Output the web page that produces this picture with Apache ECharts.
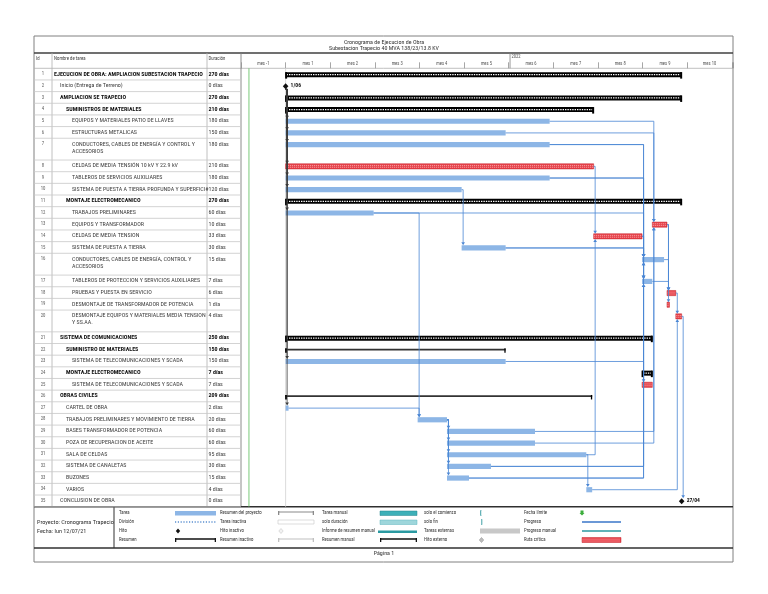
<!DOCTYPE html>
<html><head><meta charset="utf-8">
<script src="https://cdn.jsdelivr.net/npm/echarts@6/dist/echarts.min.js"></script>
<style>html,body{margin:0;padding:0;background:#fff}#c{width:768px;height:594px}</style>
</head><body><div id="c"></div>
<script>
// ---------------- DATA ----------------
const taskNames = [
 'EJECUCION DE OBRA: AMPLIACION SUBESTACION TRAPECIO',
 'Inicio (Entrega de Terreno)',
 'AMPLIACION SE TRAPECIO',
 'SUMINISTROS DE MATERIALES',
 'EQUIPOS Y MATERIALES PATIO DE LLAVES',
 'ESTRUCTURAS METALICAS',
 'CONDUCTORES, CABLES DE ENERGÍA Y CONTROL Y\nACCESORIOS',
 'CELDAS DE MEDIA TENSIÓN 10 kV Y 22.9 kV',
 'TABLEROS DE SERVICIOS AUXILIARES',
 'SISTEMA DE PUESTA A TIERRA PROFUNDA Y SUPERFICI#',
 'MONTAJE ELECTROMECANICO',
 'TRABAJOS PRELIMINARES',
 'EQUIPOS Y TRANSFORMADOR',
 'CELDAS DE MEDIA TENSION',
 'SISTEMA DE PUESTA A TIERRA',
 'CONDUCTORES, CABLES DE ENERGÍA, CONTROL Y\nACCESORIOS',
 'TABLEROS DE PROTECCION Y SERVICIOS AUXILIARES',
 'PRUEBAS Y PUESTA EN SERVICIO',
 'DESMONTAJE DE TRANSFORMADOR DE POTENCIA',
 'DESMONTAJE EQUIPOS Y MATERIALES MEDIA TENSION\nY SS.AA.',
 'SISTEMA DE COMUNICACIONES',
 'SUMINISTRO DE MATERIALES',
 'SISTEMA DE TELECOMUNICACIONES Y SCADA',
 'MONTAJE ELECTROMECANICO',
 'SISTEMA DE TELECOMUNICACIONES Y SCADA',
 'OBRAS CIVILES',
 'CARTEL DE OBRA',
 'TRABAJOS PRELIMINARES Y MOVIMIENTO DE TIERRA',
 'BASES TRANSFORMADOR DE POTENCIA',
 'POZA DE RECUPERACION DE ACEITE',
 'SALA DE CELDAS',
 'SISTEMA DE CANALETAS',
 'BUZONES',
 'VARIOS',
 'CONCLUSION DE OBRA'
];
const durationLabels = ['270 días','0 días','270 días','210 días','180 días','150 días','180 días','210 días','180 días','120 días',
 '270 días','60 días','10 días','33 días','30 días','15 días','7 días','6 días','1 día','4 días',
 '250 días','150 días','150 días','7 días','7 días','209 días','2 días','20 días','60 días','60 días',
 '95 días','30 días','15 días','4 días','0 días'];
const outlineLevels = [0,1,1,2,3,3,3,3,3,3, 2,3,3,3,3,3,3,3,3,3, 1,2,3,2,3,1,2,2,2,2, 2,2,2,2,1];
const startDays  = [0,0,0,0,0,0,0,0,0,0, 0,0,250,210,120,243,243,260,260,266, 0,0,0,243,243,0,0,90,110,110, 110,110,110,205,270];
const lengthDays = [270,0,270,210,180,150,180,210,180,120, 270,60,10,33,30,15,7,6,1,4, 250,150,150,7,7,209,2,20,60,60, 95,30,15,4,0];
// proj = project summary, sum = critical summary, sumthin = summary, ms = milestone, task
const taskKinds = ['proj','ms','sum','sum','task','task','task','task','task','task',
 'sum','task','task','task','task','task','task','task','task','task',
 'sum','sumthin','task','sum','task','sumthin','task','task','task','task',
 'task','task','task','task','ms'];
const criticalFlags = [0,0,0,0,0,0,0,1,0,0, 0,0,1,1,0,0,0,1,1,1, 0,0,0,0,1,0,0,0,0,0, 0,0,0,0,0];
const boldFlags = [1,0,1,1,0,0,0,0,0,0, 1,0,0,0,0,0,0,0,0,0, 1,1,0,1,0,1,0,0,0,0, 0,0,0,0,0];
const milestoneLabels = {2:'1/06', 35:'27/04'};
const dependencies = [
 [2,5],[2,6],[2,7],[2,8],[2,9],[2,10],[2,12],[2,23],[2,27],
 [5,13],[6,13],[7,16],[7,17],[8,14],[9,16],[9,17],[10,15],[12,16],[12,28],
 [14,16],[14,17],[15,16],[15,17],[16,18],[17,18],[13,18],[13,19],[18,20],[20,35],
 [23,25],[27,28],[28,29],[28,30],[28,31],[28,32],[28,33],[29,13],[30,13],
 [31,14],[31,34],[32,16],[32,17],[33,16],[33,17],[34,20]
];
const monthLabels = ['mes -1','mes 1','mes 2','mes 3','mes 4','mes 5','mes 6','mes 7','mes 8','mes 9','mes 10'];
const MONTH = 30.42;
const yearMarkDay = 153, yearMarkLabel = '2022';
const todayDay = -25;
const titleLines = ['Cronograma de Ejecucion de Obra','Subestacion Trapecio 40 MVA 138/23/13.8 KV'];
const legendLabels = [
 ['Tarea','División','Hito','Resumen'],
 ['Resumen del proyecto','Tarea inactiva','Hito inactivo','Resumen inactivo'],
 ['Tarea manual','solo duración','Informe de resumen manual','Resumen manual'],
 ['solo el comienzo','solo fin','Tareas externas','Hito externo'],
 ['Fecha límite','Progreso','Progreso manual','Ruta crítica']
];
const projectInfo = ['Proyecto: Cronograma Trapecio','Fecha: lun 12/07/21'];

// ---------------- LAYOUT ----------------
const FONT = '"Liberation Sans Narrow","Roboto Condensed","Arial Narrow","Liberation Sans",sans-serif';
const FS = 6.0;
const rowHeights = taskNames.map(n => n.split('\n').length > 1 ? 1.87 : 1);
const rowTops = []; let acc = 0;
rowHeights.forEach(h => { rowTops.push(acc); acc += h; });
const totalUnits = acc;
const L = 34, R = 733, TOP = 36, HDR = 53, T0 = 68.3, TB = 506.7, LEGB = 548, BOT = 562;
const C1 = 52, C2 = 207, C3 = 241;
const BLUE = '#8DB6E6', LINK = '#4A86D4', RED = '#E8434B';

function txt(x, y, s, opt) {
  opt = opt || {};
  return {type:'text', x:x, y:y, z: opt.z || 10, silent:true, style:{text:s, fill:opt.color||'#404040',
    fontSize:opt.size||FS, fontFamily:FONT, fontWeight:opt.bold?'bold':'normal',
    align:opt.align||'left', verticalAlign:'middle', textAlign:opt.align||'left', textVerticalAlign:'middle'}};
}
function ln(x1,y1,x2,y2,color,w,dash){
  return {type:'line', silent:true, shape:{x1:x1,y1:y1,x2:x2,y2:y2}, style:{stroke:color,lineWidth:w||1, lineDash:dash||null}};
}

// ---------------- RENDERERS ----------------
function tableRender(params, api){
  const i = api.value(0);
  const yTop = api.coord([0, rowTops[i]])[1];
  const yBot = api.coord([0, rowTops[i] + rowHeights[i]])[1];
  const unit = api.coord([0,1])[1] - api.coord([0,0])[1];
  const y1 = yTop + unit*0.5;
  const ch = [];
  ch.push(ln(L, yBot, C3, yBot, '#C8C8C8', 0.8));
  ch.push(txt((L+C1)/2, y1, String(i+1), {align:'center', color:'#606060', size:4.8}));
  const lines = taskNames[i].split('\n');
  const bold = !!boldFlags[i];
  lines.forEach((s,k) => ch.push(txt(C1 + 2 + outlineLevels[i]*6, y1 + k*7, s, {bold:bold, color: bold?'#111':'#404040'})));
  ch.push(txt(C2 + 1.5, y1, durationLabels[i], {bold:bold, color: bold?'#111':'#404040'}));
  return {type:'group', children:ch};
}

function barY(api, i){ return api.coord([0, rowTops[i] + 0.5])[1] + 0.5; }

function barsRender(params, api){
  const i = api.value(0);
  const kind = taskKinds[i];
  const yc = barY(api, i);
  const x0 = api.coord([startDays[i], 0])[0];
  const x1 = api.coord([startDays[i] + lengthDays[i], 0])[0];
  const w = Math.max(x1 - x0, 2.5);
  const ch = [];
  if (kind === 'task') {
    if (criticalFlags[i]) {
      ch.push({type:'rect', shape:{x:x0, y:yc-2.6, width:w, height:5.2}, style:{fill:RED, stroke:'#C4242C', lineWidth:0.5}});
      ch.push(ln(x0+0.5, yc-0.9, x0+w-0.5, yc-0.9, '#F7B9BC', 0.8, [1,1]));
      ch.push(ln(x0+0.5, yc+0.9, x0+w-0.5, yc+0.9, '#F7B9BC', 0.8, [1,1]));
    } else {
      ch.push({type:'rect', shape:{x:x0, y:yc-2.6, width:w, height:5.2}, style:{fill:BLUE}});
    }
  } else if (kind === 'sum' || kind === 'proj') {
    ch.push({type:'rect', shape:{x:x0, y:yc-2.5, width:w, height:5}, style:{fill:'#000'}});
    ch.push(ln(x0+1, yc, x0+w-1, yc, '#fff', 1.2, [1.4,1]));
    ch.push({type:'rect', shape:{x:x0-0.5, y:yc-2.5, width:2, height:6.5}, style:{fill:'#000'}});
    ch.push({type:'rect', shape:{x:x0+w-1.5, y:yc-2.5, width:2, height:6.5}, style:{fill:'#000'}});
  } else if (kind === 'sumthin') {
    ch.push({type:'rect', shape:{x:x0, y:yc-1.2, width:w, height:1.8}, style:{fill:'#333'}});
    ch.push({type:'rect', shape:{x:x0-0.5, y:yc-1.5, width:1.8, height:4.5}, style:{fill:'#000'}});
    ch.push({type:'rect', shape:{x:x0+w-1.3, y:yc-1.5, width:1.3, height:4.5}, style:{fill:'#000'}});
  } else if (kind === 'ms') {
    ch.push({type:'polygon', shape:{points:[[x0,yc-3],[x0+2.8,yc],[x0,yc+3],[x0-2.8,yc]]}, style:{fill:'#111'}});
    const lab = milestoneLabels[i+1];
    if (lab) ch.push(txt(x0 + 5, yc - 0.5, lab, {bold:true, color:'#111', size:5.6}));
  }
  return {type:'group', children:ch};
}

function linksRender(params, api){
  const f = api.value(0) - 1, t = api.value(1) - 1;
  const yf = barY(api, f), yt = barY(api, t);
  const xe = api.coord([startDays[f] + lengthDays[f], 0])[0];
  const xs = api.coord([startDays[t], 0])[0];
  const xt = Math.max(xs, xe) + 1.5;
  const down = yt > yf;
  const half = taskKinds[t] === 'ms' ? 3 : 2.6;
  const yEnd = down ? yt - half : yt + half;
  const col = taskKinds[f] === 'ms' ? '#3A3A3A' : LINK;
  const ys = taskKinds[f] === 'ms' ? yf + 3 : yf;
  const ch = [{type:'polyline', shape:{points:[[xe, ys],[xt, ys],[xt, yEnd + (down?-2.6:2.6)]]}, style:{stroke:col, lineWidth:0.8, fill:null}}];
  const d = down ? -1 : 1;
  ch.push({type:'polygon', shape:{points:[[xt-1.8, yEnd+3*d],[xt+1.8, yEnd+3*d],[xt, yEnd]]}, style:{fill:col}});
  return {type:'group', children:ch};
}

function headerRender(params, api){
  const k = api.value(0);
  const xa = api.coord([-MONTH + k*MONTH, 0])[0];
  const xb = api.coord([-MONTH + (k+1)*MONTH, 0])[0];
  return txt((xa+xb)/2, 64, monthLabels[k], {align:'center', size:4.6, color:'#555'});
}

function markRender(params, api){
  const kind = api.value(1);
  const x = api.coord([api.value(0), 0])[0];
  if (kind === 0) return ln(x, T0, x, TB, '#6CC36C', 0.9);
  if (kind === 1) return ln(x, T0, x, TB, '#D6D6D6', 0.9);
  return {type:'group', children:[ln(x, HDR, x, T0, '#808080', 0.8), txt(x+1.5, 57, yearMarkLabel, {size:4.6, color:'#555'})]};
}

// ---------------- STATIC GRAPHICS ----------------
const g = [];
g.push(ln(L, TOP, R, TOP, '#808080', 1));
g.push(ln(L, TOP, L, BOT, '#808080', 1));
g.push(ln(R, TOP, R, BOT, '#808080', 1));
g.push(ln(L, HDR, R, HDR, '#404040', 1.6));
g.push(ln(L, T0, R, T0, '#B0B0B0', 0.8));
g.push(ln(C1, HDR, C1, TB, '#B0B0B0', 0.8));
g.push(ln(C2, HDR, C2, TB, '#B0B0B0', 0.8));
g.push(ln(C3, HDR, C3, TB, '#808080', 0.9));
g.push(ln(L, TB, R, TB, '#303030', 1.6));
g.push(ln(L, LEGB, R, LEGB, '#303030', 1.4));
g.push(ln(114, TB, 114, LEGB, '#303030', 1));
g.push(ln(L, BOT, R, BOT, '#808080', 1));
g.push(txt(384, 42, titleLines[0], {align:'center', size:6, color:'#333'}));
g.push(txt(384, 48, titleLines[1], {align:'center', size:6, color:'#333'}));
g.push(txt(36, 58.5, 'Id', {size:4.8}));
g.push(txt(C1+2, 58.5, 'Nombre de tarea', {size:4.8}));
g.push(txt(C2+1.5, 58.5, 'Duración', {size:4.8}));
g.push(txt(37, 522, projectInfo[0], {size:6.2, color:'#333'}));
g.push(txt(37, 531, projectInfo[1], {size:6.2, color:'#333'}));
g.push(txt(384, 553, 'Página 1', {align:'center', size:6, color:'#333'}));

const legLabelX = [119, 220, 322, 424, 524];
const legSymX = [175, 278, 380, 480, 582];
const legY = [513, 522, 531, 540];
function bracket(x, y, w, col, lw){
  return [ln(x, y, x+w, y, col, lw), {type:'rect', silent:true, shape:{x:x, y:y-1, width:1.3, height:4}, style:{fill:col}},
          {type:'rect', silent:true, shape:{x:x+w-1.3, y:y-1, width:1.3, height:4}, style:{fill:col}}];
}
function diamond(x, y, col, stroke){
  return {type:'polygon', silent:true, shape:{points:[[x,y-2.5],[x+2.2,y],[x,y+2.5],[x-2.2,y]]}, style:{fill:col, stroke:stroke||null, lineWidth:0.6}};
}
legendLabels.forEach((col, c) => col.forEach((lab, r) => {
  g.push(txt(legLabelX[c], legY[r], lab, {size:4.8, color:'#333'}));
  const x = legSymX[c], y = legY[r];
  const key = c + '-' + r;
  switch (key) {
    case '0-0': g.push({type:'rect', silent:true, shape:{x:x, y:y-2, width:41, height:4.5}, style:{fill:BLUE}}); break;
    case '0-1': g.push(ln(x, y, x+41, y, '#5B8FD0', 1.6, [1.2,1.6])); break;
    case '0-2': g.push(diamond(x+3, y, '#111')); break;
    case '0-3': bracket(x, y-1, 41, '#111', 1.6).forEach(e => g.push(e)); break;
    case '1-0': bracket(x, y-1, 36, '#8A8A8A', 1.2).forEach(e => g.push(e)); break;
    case '1-1': g.push({type:'rect', silent:true, shape:{x:x, y:y-2, width:36, height:4}, style:{fill:'#fff', stroke:'#C8C8C8', lineWidth:0.6}}); break;
    case '1-2': g.push(diamond(x+3, y, '#F2F2F2', '#C8C8C8')); break;
    case '1-3': bracket(x, y-1, 36, '#C0C0C0', 1.2).forEach(e => g.push(e)); break;
    case '2-0': g.push({type:'rect', silent:true, shape:{x:x, y:y-2, width:37, height:4.5}, style:{fill:'#3DB0B8', stroke:'#24858C', lineWidth:0.5}}); break;
    case '2-1': g.push({type:'rect', silent:true, shape:{x:x, y:y-2, width:37, height:4.5}, style:{fill:'#9ED6DB', stroke:'#5FB5BC', lineWidth:0.5}}); break;
    case '2-2': g.push({type:'rect', silent:true, shape:{x:x-2, y:y-0.5, width:39, height:2.5}, style:{fill:'#2A9AA2'}}); break;
    case '2-3': bracket(x, y-1, 37, '#111', 1.4).forEach(e => g.push(e)); break;
    case '3-0': g.push(txt(x, y, '[', {size:6, color:'#1E8F96', bold:true})); break;
    case '3-1': g.push(txt(x+1, y, ']', {size:6, color:'#1E8F96', bold:true})); break;
    case '3-2': g.push({type:'rect', silent:true, shape:{x:x, y:y-2.5, width:40, height:5}, style:{fill:'#C8C8C8'}}); break;
    case '3-3': g.push(diamond(x+1.5, y, '#BDBDBD', '#999')); break;
    case '4-0': g.push({type:'polygon', silent:true, shape:{points:[[x-1.5,y-2.5],[x+1.5,y-2.5],[x+1.5,y],[x+2.5,y],[x,y+2.5],[x-2.5,y],[x-1.5,y]]}, style:{fill:'#3DAE3D'}}); break;
    case '4-1': g.push(ln(x, y, x+39, y, '#3A76C8', 1.6)); break;
    case '4-2': g.push(ln(x, y, x+39, y, '#2A9AA2', 1.6)); break;
    case '4-3': g.push({type:'rect', silent:true, shape:{x:x, y:y-2.5, width:39, height:5}, style:{fill:RED, stroke:'#C4242C', lineWidth:0.5}});
                g.push(ln(x+0.5, y-0.8, x+38.5, y-0.8, '#F7B9BC', 0.8, [1,1]));
                g.push(ln(x+0.5, y+1, x+38.5, y+1, '#F7B9BC', 0.8, [1,1])); break;
  }
}));

// ---------------- CHART ----------------
const chart = echarts.init(document.getElementById('c'));
const idx = taskNames.map((_, i) => [i]);
chart.setOption({
  animation: false,
  backgroundColor: '#fff',
  grid: {left: C3, right: 768 - R, top: T0, bottom: 594 - TB, containLabel: false},
  xAxis: {type:'value', position:'top', min: -MONTH, max: 305, interval: MONTH,
          axisLine:{show:false}, axisLabel:{show:false}, splitLine:{show:false},
          axisTick:{show:true, length:6, lineStyle:{color:'#909090', width:0.8}}},
  yAxis: {type:'value', inverse:true, min:0, max: totalUnits, show:false},
  graphic: {elements: g},
  series: [
    {type:'custom', name:'table', renderItem: tableRender, data: idx, silent:true, z:2},
    {type:'custom', name:'marks', renderItem: markRender, data: [[todayDay,0],[0,1],[yearMarkDay,2]], silent:true, z:3},
    {type:'custom', name:'months', renderItem: headerRender, data: monthLabels.map((_, k) => [k]), silent:true, z:3},
    {type:'custom', name:'bars', renderItem: barsRender, data: idx, silent:true, z:4},
    {type:'custom', name:'links', renderItem: linksRender, data: dependencies, silent:true, z:5}
  ]
});
</script></body></html>
